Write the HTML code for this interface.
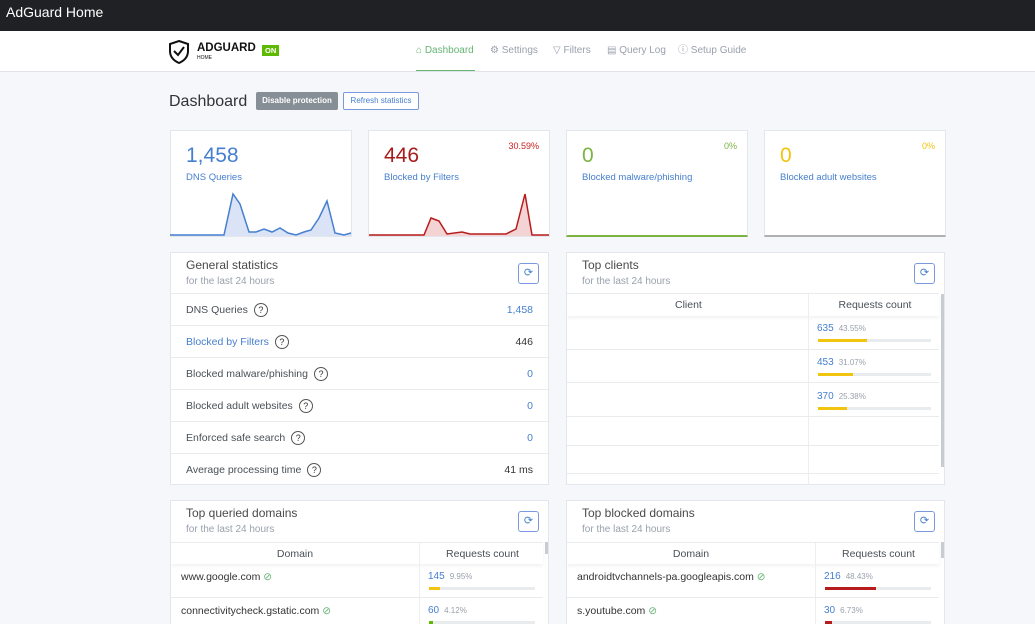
<!DOCTYPE html>
<html><head><meta charset="utf-8"><style>
*{box-sizing:border-box;margin:0;padding:0}
body{width:1035px;height:624px;overflow:hidden;background:#f5f7fb;font-family:"Liberation Sans",sans-serif;position:relative;color:#495057}
.a{position:absolute}
.card{position:absolute;background:#fff;border:1px solid #e3e6ec;overflow:hidden}
.t{font-size:12px;color:#4a4a4a}
.sub{font-size:10px;color:#9aa0ac}
.ref{position:absolute;width:21px;height:21px;border:1px solid #7a99dd;border-radius:3px;color:#467fcf;font-size:11px;text-align:center;line-height:19px}
.q{display:inline-block;width:14px;height:14px;border:1px solid #555;border-radius:50%;font-size:9px;text-align:center;line-height:12px;margin-left:6px;color:#333}
.row{position:absolute;left:0;right:0;border-top:1px solid #e9ecef;font-size:10.5px;color:#495057}
.bar{position:absolute;height:3px;background:#e9ecef;width:113px}
.bar i{display:block;height:3px}
.nav{position:absolute;top:45px;font-size:10px;line-height:12px;color:#9aa0ac;white-space:nowrap}
</style></head><body>
<div class="a" style="left:0;top:0;width:1035px;height:31px;background:#202124;color:#fff;font-size:14px;line-height:24px;padding-left:6px">AdGuard Home</div>
<div class="a" style="left:0;top:31px;width:1035px;height:41px;background:#fff;border-bottom:1px solid #e0e3e8"></div>
<svg class="a" style="left:168px;top:40px" width="22" height="24" viewBox="0 0 22 24"><path d="M11 1 L20 4 L20 11 Q20 19 11 23 Q2 19 2 11 L2 4 Z" fill="none" stroke="#111" stroke-width="2"/><path d="M6 11 L10 15 L16 7" fill="none" stroke="#111" stroke-width="2"/></svg>
<div class="a" style="left:197px;top:42px;font-size:11.5px;font-weight:bold;color:#111">ADGUARD</div>
<div class="a" style="left:197px;top:55px;font-size:5px;color:#111">HOME</div>
<div class="a" style="left:262px;top:45px;background:#5eba00;color:#fff;font-size:7.5px;font-weight:bold;padding:1px 3px">ON</div>
<div class="nav" style="left:416px;color:#66b574">⌂ Dashboard</div>
<div class="a" style="left:416px;top:70px;width:59px;height:1px;background:#66b574"></div>
<div class="nav" style="left:490px">⚙ Settings</div>
<div class="nav" style="left:553px">▽ Filters</div>
<div class="nav" style="left:607px">▤ Query Log</div>
<div class="nav" style="left:678px">ⓘ Setup Guide</div>
<div class="a" style="left:169px;top:93px;font-size:16px;color:#333">Dashboard</div>
<div class="a" style="left:256px;top:92px;width:82px;height:18px;background:#868e96;color:#fff;font-size:8px;font-weight:bold;text-align:center;line-height:18px;border-radius:2px">Disable protection</div>
<div class="a" style="left:343px;top:92px;width:76px;height:18px;border:1px solid #7a99dd;color:#467fcf;font-size:8px;text-align:center;line-height:16px;border-radius:2px;background:#fff">Refresh statistics</div>

<div class="card" style="left:170px;top:130px;width:182px;height:107px">
<div class="a" style="left:15px;top:13px;font-size:21px;color:#467fcf">1,458</div>
<div class="a" style="left:15px;top:41px;font-size:9.5px;color:#467fcf">DNS Queries</div></div>
<div class="card" style="left:368px;top:130px;width:182px;height:107px">
<div class="a" style="left:15px;top:13px;font-size:21px;color:#a81b1b">446</div>
<div class="a" style="left:15px;top:41px;font-size:9.5px;color:#467fcf">Blocked by Filters</div>
<div class="a" style="right:10px;top:10px;font-size:9px;color:#cd201f">30.59%</div></div>
<div class="card" style="left:566px;top:130px;width:182px;height:107px;border-bottom:2px solid #7cb342">
<div class="a" style="left:15px;top:13px;font-size:21px;color:#7cb342">0</div>
<div class="a" style="left:15px;top:41px;font-size:9.5px;color:#467fcf">Blocked malware/phishing</div>
<div class="a" style="right:10px;top:10px;font-size:9px;color:#7cb342">0%</div></div>
<div class="card" style="left:764px;top:130px;width:182px;height:107px;border-bottom:2px solid #b0b0b0">
<div class="a" style="left:15px;top:13px;font-size:21px;color:#f1c40f">0</div>
<div class="a" style="left:15px;top:41px;font-size:9.5px;color:#467fcf">Blocked adult websites</div>
<div class="a" style="right:10px;top:10px;font-size:9px;color:#f1c40f">0%</div></div>
<svg class="a" style="left:0;top:0" width="1035" height="240">
<polygon fill="#dbe4f6" points="170,235 224,235 233,194 240,204 249,232 256,232 264,229 272,232 280,228 288,233 296,235 304,232 311,230 319,218 327,201 335,233 344,235 351,233 351,236 170,236"/>
<polyline fill="none" stroke="#467fcf" stroke-width="1.5" points="170,235 224,235 233,194 240,204 249,232 256,232 264,229 272,232 280,228 288,233 296,235 304,232 311,230 319,218 327,201 335,233 344,235 351,233"/>
<polygon fill="#f3d3d3" points="369,235 424,235 431,218 439,221 447,234 462,232 470,234 485,234 506,234 516,229 525,194 532,235 549,235 549,236 369,236"/>
<polyline fill="none" stroke="#b71c1c" stroke-width="1.5" points="369,235 424,235 431,218 439,221 447,234 462,232 470,234 485,234 506,234 516,229 525,194 532,235 549,235"/>
</svg>

<div class="card" style="left:170px;top:252px;width:379px;height:233px">
<div class="a t" style="left:15px;top:5px">General statistics</div>
<div class="a sub" style="left:15px;top:23px">for the last 24 hours</div>
<div class="ref" style="left:347px;top:10px">⟳</div>
<div class="row" style="top:40px;height:32px"><span class="a" style="left:15px;top:9px">DNS Queries<span class="q">?</span></span><span class="a" style="right:15px;top:10px;color:#467fcf">1,458</span></div>
<div class="row" style="top:72px;height:32px"><span class="a" style="left:15px;top:9px;color:#467fcf">Blocked by Filters<span class="q">?</span></span><span class="a" style="right:15px;top:10px;color:#333">446</span></div>
<div class="row" style="top:104px;height:32px"><span class="a" style="left:15px;top:9px">Blocked malware/phishing<span class="q">?</span></span><span class="a" style="right:15px;top:10px;color:#467fcf">0</span></div>
<div class="row" style="top:136px;height:32px"><span class="a" style="left:15px;top:9px">Blocked adult websites<span class="q">?</span></span><span class="a" style="right:15px;top:10px;color:#467fcf">0</span></div>
<div class="row" style="top:168px;height:32px"><span class="a" style="left:15px;top:9px">Enforced safe search<span class="q">?</span></span><span class="a" style="right:15px;top:10px;color:#467fcf">0</span></div>
<div class="row" style="top:200px;height:32px"><span class="a" style="left:15px;top:9px">Average processing time<span class="q">?</span></span><span class="a" style="right:15px;top:10px;color:#333">41 ms</span></div>
</div>

<div class="card" style="left:566px;top:252px;width:379px;height:233px">
<div class="a t" style="left:15px;top:5px">Top clients</div>
<div class="a sub" style="left:15px;top:23px">for the last 24 hours</div>
<div class="ref" style="left:347px;top:10px">⟳</div>
<div class="row" style="top:40px;height:23px;right:5px;box-shadow:0 2px 4px rgba(0,0,0,.06)"><span class="a" style="left:108px;top:5px">Client</span><span class="a" style="left:241px;top:0;bottom:-200px;border-left:1px solid #eceef2"></span><span class="a" style="left:242px;width:132px;text-align:center;top:5px">Requests count</span></div>
<div class="row" style="top:96px;right:5px"></div><div class="row" style="top:129px;right:5px"></div><div class="row" style="top:163px;right:5px"></div><div class="row" style="top:192px;right:5px"></div><div class="row" style="top:220px;right:5px"></div>
<span class="a" style="left:250px;top:70px;font-size:10px;color:#467fcf">635 <span style="font-size:8px;color:#9aa0ac">&nbsp;43.55%</span></span><div class="bar" style="left:251px;top:86px"><i style="width:49px;background:#f1c40f"></i></div>
<span class="a" style="left:250px;top:104px;font-size:10px;color:#467fcf">453 <span style="font-size:8px;color:#9aa0ac">&nbsp;31.07%</span></span><div class="bar" style="left:251px;top:120px"><i style="width:35px;background:#f1c40f"></i></div>
<span class="a" style="left:250px;top:138px;font-size:10px;color:#467fcf">370 <span style="font-size:8px;color:#9aa0ac">&nbsp;25.38%</span></span><div class="bar" style="left:251px;top:154px"><i style="width:29px;background:#f1c40f"></i></div>
<div class="a" style="left:374px;top:41px;width:4px;height:173px;background:#c8ccd2"></div>
</div>

<div class="card" style="left:170px;top:500px;width:379px;height:124px;border-bottom:none">
<div class="a t" style="left:15px;top:5px">Top queried domains</div>
<div class="a sub" style="left:15px;top:23px">for the last 24 hours</div>
<div class="ref" style="left:347px;top:10px">⟳</div>
<div class="row" style="top:41px;height:22px;right:5px;box-shadow:0 2px 4px rgba(0,0,0,.06)"><span class="a" style="left:0;width:248px;text-align:center;top:5px">Domain</span><span class="a" style="left:248px;top:0;bottom:-200px;border-left:1px solid #eceef2"></span><span class="a" style="left:249px;width:125px;text-align:center;top:5px">Requests count</span></div>
<div class="row" style="top:96px;right:5px"></div>
<span class="a" style="left:10px;top:70px;font-size:10.5px;color:#333">www.google.com <span style="color:#66b574">⊘</span></span>
<span class="a" style="left:257px;top:70px;font-size:10px;color:#467fcf">145 <span style="font-size:8px;color:#9aa0ac">&nbsp;9.95%</span></span><div class="bar" style="left:258px;top:86px;width:106px"><i style="width:11px;background:#f1c40f"></i></div>
<span class="a" style="left:10px;top:104px;font-size:10.5px;color:#333">connectivitycheck.gstatic.com <span style="color:#66b574">⊘</span></span>
<span class="a" style="left:257px;top:104px;font-size:10px;color:#467fcf">60 <span style="font-size:8px;color:#9aa0ac">&nbsp;4.12%</span></span><div class="bar" style="left:258px;top:120px;width:106px"><i style="width:4px;background:#5eba00"></i></div>
<div class="a" style="left:374px;top:41px;width:4px;height:12px;background:#c8ccd2"></div>
</div>

<div class="card" style="left:566px;top:500px;width:379px;height:124px;border-bottom:none">
<div class="a t" style="left:15px;top:5px">Top blocked domains</div>
<div class="a sub" style="left:15px;top:23px">for the last 24 hours</div>
<div class="ref" style="left:347px;top:10px">⟳</div>
<div class="row" style="top:41px;height:22px;right:5px;box-shadow:0 2px 4px rgba(0,0,0,.06)"><span class="a" style="left:0;width:248px;text-align:center;top:5px">Domain</span><span class="a" style="left:248px;top:0;bottom:-200px;border-left:1px solid #eceef2"></span><span class="a" style="left:249px;width:125px;text-align:center;top:5px">Requests count</span></div>
<div class="row" style="top:96px;right:5px"></div>
<span class="a" style="left:10px;top:70px;font-size:10.5px;color:#333">androidtvchannels-pa.googleapis.com <span style="color:#66b574">⊘</span></span>
<span class="a" style="left:257px;top:70px;font-size:10px;color:#467fcf">216 <span style="font-size:8px;color:#9aa0ac">&nbsp;48.43%</span></span><div class="bar" style="left:258px;top:86px;width:106px"><i style="width:51px;background:#b71c1c"></i></div>
<span class="a" style="left:10px;top:104px;font-size:10.5px;color:#333">s.youtube.com <span style="color:#66b574">⊘</span></span>
<span class="a" style="left:257px;top:104px;font-size:10px;color:#467fcf">30 <span style="font-size:8px;color:#9aa0ac">&nbsp;6.73%</span></span><div class="bar" style="left:258px;top:120px;width:106px"><i style="width:7px;background:#b71c1c"></i></div>
<div class="a" style="left:374px;top:41px;width:4px;height:16px;background:#c8ccd2"></div>
</div>
</body></html>
